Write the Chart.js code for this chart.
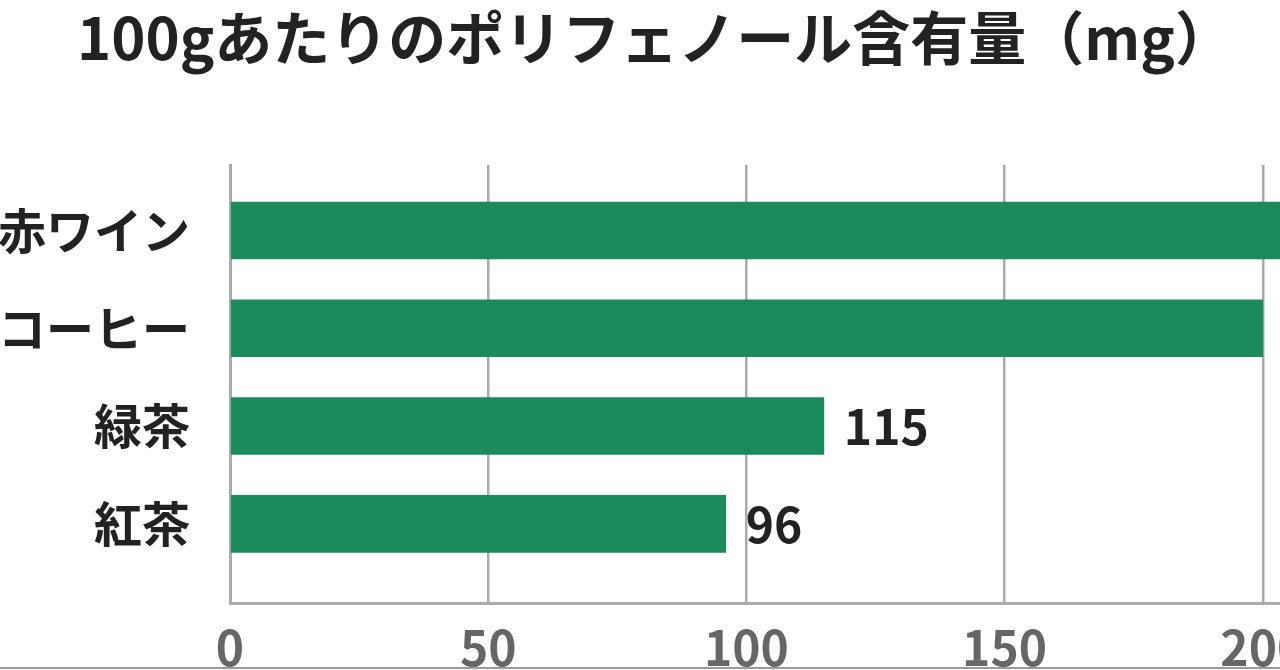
<!DOCTYPE html>
<html lang="ja">
<head>
<meta charset="utf-8">
<script src="https://cdn.jsdelivr.net/npm/chart.js@4/dist/chart.umd.min.js"></script>
<style>
  html, body { margin: 0; padding: 0; background: #fff; overflow: hidden; width: 1280px; height: 670px; }
  #title {
    position: absolute; left: 15px; top: 6px; width: 1280px; text-align: center;
    font-family: "Noto Sans CJK JP", sans-serif; font-weight: bold; font-size: 58px;
    line-height: 1; color: #222; letter-spacing: 0; white-space: nowrap;
  }
  #chart { position: absolute; left: 0; top: 0; }
  #edge { position: absolute; left: 0; bottom: 1px; width: 1280px; height: 2px; background: #9a9a9a; }
</style>
</head>
<body>
<div id="title">100gあたりのポリフェノール含有量（mg）</div>
<canvas id="chart" width="1530" height="700"></canvas>
<div id="edge"></div>
<script>
const categories = ['赤ワイン', 'コーヒー', '緑茶', '紅茶'];
const values = [230, 200, 115, 96];
const xTicks = [0, 50, 100, 150, 200];

const FONT = '"Noto Sans CJK JP", sans-serif';
const GRID = '#ababab';

// writes the value just right of each bar end
const valueLabels = {
  id: 'valueLabels',
  afterDatasetsDraw(chart) {
    const ctx = chart.ctx;
    const meta = chart.getDatasetMeta(0);
    ctx.save();
    ctx.font = 'bold 48px ' + FONT;
    ctx.fillStyle = '#222';
    ctx.textAlign = 'left';
    ctx.textBaseline = 'middle';
    meta.data.forEach((bar, i) => {
      ctx.fillText(String(values[i]), bar.x + 20, bar.y + 1);
    });
    ctx.restore();
  }
};

new Chart(document.getElementById('chart').getContext('2d'), {
  type: 'bar',
  data: {
    datasets: [{
      data: values.map((v, i) => ({ x: v, y: i })),
      backgroundColor: '#1c8b5c',
      borderWidth: 0,
      barThickness: 57
    }]
  },
  options: {
    indexAxis: 'y',
    responsive: false,
    devicePixelRatio: 1,
    animation: false,
    layout: { padding: { top: 165, right: 9, left: 0, bottom: 0 } },
    plugins: {
      legend: { display: false },
      tooltip: { enabled: false },
      title: { display: false }
    },
    scales: {
      x: {
        type: 'linear',
        min: 0,
        max: 250,
        afterBuildTicks: scale => { scale.ticks = xTicks.map(v => ({ value: v })); },
        afterFit: scale => { scale.height = 97; },
        grid: { color: GRID, lineWidth: 2.5, drawTicks: false },
        border: { color: GRID, width: 3 },
        ticks: {
          padding: 16,
          color: '#666',
          font: { family: FONT, size: 48, weight: 'bold' }
        }
      },
      y: {
        type: 'linear',
        reverse: true,
        offset: false,
        min: -0.67,
        max: 3.81,
        afterBuildTicks: scale => { scale.ticks = categories.map((c, i) => ({ value: i })); },
        afterFit: scale => { scale.width = 230; },
        grid: { display: false, drawTicks: false, offset: false },
        border: { color: GRID, width: 3 },
        ticks: {
          padding: 40,
          color: '#222',
          callback: v => categories[v],
          font: { family: FONT, size: 48, weight: 'bold' }
        }
      }
    }
  },
  plugins: [valueLabels]
});
</script>
</body>
</html>
